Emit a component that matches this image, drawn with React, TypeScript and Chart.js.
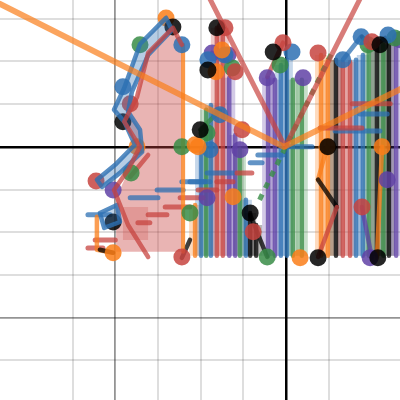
import React, { useEffect, useRef } from 'react';
import { Chart, registerables } from 'chart.js';

Chart.register(...registerables);

// desmos-like palette
const RED = '#c74440';
const BLUE = '#2d70b3';
const GREEN = '#388c46';
const PURPLE = '#6042a6';
const ORANGE = '#fa7e19';
const BLACK = '#000000';

type Pt = [number, number];

// view window in graph units (one unit per grid line)
const xMin = -6.7;
const xMax = 2.67;
const yMin = -5.93;
const yMax = 3.44;

// long straight lines
const orangeV: Pt[] = [[-6.7, 3.35], [-0.05, 0], [2.7, 1.36]];
const redV: Pt[] = [[-1.8, 3.5], [-0.02, 0], [1.8, 3.6]];
const greenDashed: Pt[] = [[-0.62, -1.24], [1.12, 2.3]];

// left shapes
const blueRibbon: Pt[] = [
  [-2.81, 3.02], [-3.42, 2.41], [-3.79, 1.38], [-4.03, 0.87], [-3.79, 0.59], [-3.54, 0.05],
  [-3.98, -0.4], [-4.43, -0.77], [-4.31, -0.94], [-3.89, -0.61], [-3.37, -0.12], [-3.42, 0.4],
  [-3.7, 0.82], [-3.61, 1.29], [-3.23, 2.15], [-2.67, 2.74], [-2.81, 3.02],
];
const redShape: Pt[] = [
  [-2.65, 2.79], [-2.44, 2.39], [-2.44, -2.46], [-3.98, -2.46], [-3.98, -1.24], [-3.84, -0.89],
  [-3.42, 0], [-3.79, 0.59], [-3.49, 1.17], [-3.23, 2.2], [-2.65, 2.79],
];
const redBlock: Pt[] = [[-3.82, -1.41], [-3.23, -1.41], [-3.23, -2.18], [-3.82, -2.18], [-3.82, -1.41]];
const redEdge: Pt[] = [
  [-2.44, 2.39], [-2.65, 2.79], [-3.23, 2.2], [-3.49, 1.17], [-3.79, 0.59], [-3.42, 0],
  [-3.7, -0.54], [-4.03, -1.01], [-3.84, -1.48], [-3.7, -1.83], [-3.23, -2.58],
];
const orangeEdge: Pt[] = [[-2.41, 2.39], [-2.41, -2.46]];
const blueBox: Pt[] = [[-4.36, -1.55], [-3.96, -1.36], [-3.89, -1.76], [-4.26, -1.9], [-4.36, -1.55]];

// vertical stripes
const stripeX = [
  -2.13, -1.99, -1.87, -1.76, -1.62, -1.48, -1.33, -1.19, -1.08, -0.94, -0.84, -0.7,
  -0.42, -0.26, -0.12, 0.02, 0.16, 0.37,
  0.82, 0.98, 1.17, 1.33, 1.5, 1.64, 1.8, 1.94, 2.13, 2.28, 2.41, 2.58,
];
const stripeTop = [
  -1.36, -0.07, 0.87, 0.98, 2.79, 2.79, 1.62, 0.28, -0.07, -1.24, -1.55, -1.83,
  1.62, 1.57, 1.92, 2.04, 1.57, 1.57,
  2.15, 2.04, 2.04, 1.99, 1.99, 2.04, 2.15, 2.32, 2.46, 2.4, 2.51, 2.51,
];
const stripeColor = [
  ORANGE, BLUE, GREEN, BLUE, RED, RED, PURPLE, PURPLE, GREEN, BLUE, BLACK, BLACK,
  PURPLE, PURPLE, BLUE, BLUE, GREEN, GREEN,
  ORANGE, ORANGE, BLACK, RED, RED, BLUE, BLUE, GREEN, BLACK, GREEN, BLACK, PURPLE,
];
const stripeBottom = -2.55;

// short horizontal dashes
const dashX1 = [-2.44, -3.02, -3.65, -4.64, -1.85, -2.25, -0.66, -0.84, 0.05, 1.15, 1.73,
  -2.48, -2.83, -3.23, -3.47, -4.47, -4.64, -1.15, -1.62, -2.06, 1.55, 0.8];
const dashX2 = [-1.78, -2.41, -3.0, -4.12, -1.24, -1.9, -0.07, -0.56, 0.61, 2.2, 2.37,
  -1.94, -2.25, -2.79, -3.19, -4.0, -4.29, -0.8, -1.24, -1.62, 2.44, 1.78];
const dashY = [-0.82, -1.01, -1.19, -1.59, -0.61, -0.82, -0.19, -0.37, 0, 0.37, 0.77,
  -1.19, -1.41, -1.59, -1.78, -2.18, -2.37, -0.61, -0.82, -1.01, 1.01, 0.44];
const dashColor = [BLUE, BLUE, BLUE, BLUE, BLUE, BLUE, BLUE, BLUE, BLUE, BLUE, BLUE,
  RED, RED, RED, RED, RED, RED, RED, RED, RED, RED, RED];

// loose segments
const segments: { pts: Pt[]; color: string }[] = [
  { pts: [[-4.43, -1.64], [-4.43, -2.41], [-4.05, -2.48]], color: ORANGE },
  { pts: [[-4.36, -2.41], [-4.05, -2.48]], color: BLACK },
  { pts: [[-2.25, -2.18], [-2.44, -2.6]], color: BLACK },
  { pts: [[-0.84, -1.59], [-0.44, -2.58]], color: BLACK },
  { pts: [[0.96, 0], [0.75, -0.77]], color: ORANGE },
  { pts: [[0.75, -0.77], [1.19, -1.41]], color: BLACK },
  { pts: [[1.19, -1.41], [0.75, -2.58]], color: RED },
  { pts: [[1.78, -1.41], [2.01, -2.6]], color: PURPLE },
  { pts: [[2.25, 0], [2.13, -2.6]], color: ORANGE },
  { pts: [[1.33, 2.04], [1.76, 2.58]], color: BLUE },
  { pts: [[1.78, 2.58], [2.01, 2.32], [2.32, 2.55]], color: BLACK },
  { pts: [[-0.07, 2.44], [-0.44, 1.64]], color: RED },
  { pts: [[-3.23, -0.19], [-3.65, -0.7]], color: RED },
  { pts: [[-1.73, 2.2], [-1.36, 2.0]], color: PURPLE },
  { pts: [[-2.01, 0.4], [-1.55, 0.85]], color: GREEN },
];

// points
const orangePts: Pt[] = [[-2.81, 3.02], [-3.49, 0], [-2.06, 0], [-4.05, -2.48], [-1.64, 1.76],
  [-2.13, 0.05], [-1.24, -1.17], [0.33, -2.6], [0.96, 0], [2.25, 0], [-1.5, 2.27]];
const blackPts: Pt[] = [[-2.65, 2.81], [-3.82, 0.59], [-4.05, -1.76], [-1.62, 2.79], [-1.83, 1.8],
  [-2.01, 0.4], [-0.84, -1.55], [-0.3, 2.22], [0.98, 0], [0.75, -2.6], [2.2, 2.39], [2.15, -2.6]];
const bluePts: Pt[] = [[-2.44, 2.39], [-3.82, 1.41], [-1.83, 2.04], [-1.43, 2.15], [-1.55, 0.75],
  [-1.78, -0.07], [0.14, 2.22], [1.33, 2.04], [1.76, 2.58], [2.39, 2.62]];
const greenPts: Pt[] = [[-3.42, 2.39], [-2.44, 0], [-3.63, -0.61], [-2.25, -1.55], [-1.26, 1.85],
  [-1.85, 0.33], [-0.44, -2.58], [2.55, 2.55], [1.92, 2.39], [-0.14, 1.92]];
const redPts: Pt[] = [[-3.65, 1.01], [-4.45, -0.8], [-1.43, 2.79], [-1.19, 1.76], [-1.03, 0.4],
  [-0.07, 2.44], [0.75, 2.2], [2.01, 2.46], [1.78, -1.41], [-0.77, -1.99], [-2.44, -2.58]];
const purplePts: Pt[] = [[-4.05, -1.01], [-1.73, 2.2], [-1.36, 2.15], [-1.08, -0.07], [-1.85, -1.19],
  [-0.44, 1.62], [0.4, 1.62], [2.37, -0.77], [1.97, -2.6], [2.67, 2.51]];

const alpha = (hex: string, a: number) => {
  const n = parseInt(hex.slice(1), 16);
  return `rgba(${(n >> 16) & 255},${(n >> 8) & 255},${n & 255},${a})`;
};
const xy = (p: Pt[]) => p.map(([x, y]) => ({ x, y }));

const line = (p: Pt[], color: string, width: number, a = 0.75, extra: any = {}) => ({
  data: xy(p),
  showLine: true,
  borderColor: alpha(color, a),
  borderWidth: width,
  pointRadius: 0,
  pointHoverRadius: 0,
  fill: false,
  tension: 0,
  borderCapStyle: 'round',
  borderJoinStyle: 'round',
  ...extra,
});

const dots = (p: Pt[], color: string) => ({
  data: xy(p),
  showLine: false,
  pointRadius: 8.5,
  pointHoverRadius: 8.5,
  pointBorderWidth: 0,
  pointBackgroundColor: alpha(color, 0.85),
});

const gridStyle = (v: number) => {
  if (Math.abs(v) < 1e-6) return { c: '#000000', w: 2.5 };
  if (Math.abs(v - Math.round(v)) > 1e-6) return { c: 'rgba(0,0,0,0)', w: 0 };
  if (Math.round(v) % 4 === 0) return { c: 'rgba(0,0,0,0.42)', w: 1.8 };
  return { c: 'rgba(0,0,0,0.13)', w: 2 };
};

export default function App() {
  const chartRef = useRef<HTMLCanvasElement | null>(null);

  useEffect(() => {
    if (!chartRef.current) return;
    const ctx = chartRef.current.getContext('2d');
    if (!ctx) return;

    // bottom to top, reversed at the end (chart.js draws dataset 0 last)
    const layers: any[] = [];
    layers.push(line(redShape, RED, 0, 0, { fill: 'shape', backgroundColor: alpha(RED, 0.4) }));
    layers.push(line(redBlock, RED, 0, 0, { fill: 'shape', backgroundColor: alpha(RED, 0.25) }));
    stripeX.forEach((x, i) => {
      layers.push(line([[x, stripeBottom], [x, stripeTop[i]]], stripeColor[i], 12, 0.28, { borderCapStyle: 'butt' }));
    });
    stripeX.forEach((x, i) => {
      layers.push(line([[x, stripeBottom], [x, stripeTop[i]]], stripeColor[i], 4.5, 0.75));
    });
    dashX1.forEach((x1, i) => {
      layers.push(line([[x1, dashY[i]], [dashX2[i], dashY[i]]], dashColor[i], 5, 0.75));
    });
    segments.forEach((s) => layers.push(line(s.pts, s.color, 4.5, 0.75)));
    layers.push(line(orangeEdge, ORANGE, 4, 0.8));
    layers.push(dots(purplePts, PURPLE));
    layers.push(dots(greenPts, GREEN));
    layers.push(dots(bluePts, BLUE));
    layers.push(dots(redPts, RED));
    layers.push(dots(orangePts, ORANGE));
    layers.push(dots(blackPts, BLACK));
    layers.push(line(blueRibbon, BLUE, 4.5, 0.8, { fill: 'shape', backgroundColor: alpha(BLUE, 0.35) }));
    layers.push(line(blueBox, BLUE, 4.5, 0.8, { fill: 'shape', backgroundColor: alpha(BLUE, 0.3) }));
    layers.push(line(redEdge, RED, 4.5, 0.75));
    layers.push(line(greenDashed, GREEN, 5, 0.8, { borderDash: [6, 7], borderCapStyle: 'butt' }));
    layers.push(line(redV, RED, 5, 0.7));
    layers.push(line(orangeV, ORANGE, 6, 0.7));

    const chart = new Chart(ctx, {
      type: 'scatter',
      data: { datasets: layers.reverse() },
      options: {
        responsive: false,
        animation: false,
        layout: { padding: 0, autoPadding: false },
        plugins: { legend: { display: false }, tooltip: { enabled: false } },
        events: [],
        scales: {
          x: {
            type: 'linear',
            min: xMin,
            max: xMax,
            ticks: { display: false, stepSize: 1 },
            border: { display: false },
            grid: {
              drawTicks: false,
              color: (c: any) => gridStyle(c.tick.value).c,
              lineWidth: (c: any) => gridStyle(c.tick.value).w,
            },
          },
          y: {
            type: 'linear',
            min: yMin,
            max: yMax,
            ticks: { display: false, stepSize: 1 },
            border: { display: false },
            grid: {
              drawTicks: false,
              color: (c: any) => gridStyle(c.tick.value).c,
              lineWidth: (c: any) => gridStyle(c.tick.value).w,
            },
          },
        },
      } as any,
    });

    return () => {
      chart.destroy();
    };
  }, []);

  return (
    <div style={{ position: 'fixed', left: 0, top: 0, width: 400, height: 400, background: '#fff' }}>
      <canvas ref={chartRef} width={400} height={400} style={{ display: 'block' }} />
    </div>
  );
}
